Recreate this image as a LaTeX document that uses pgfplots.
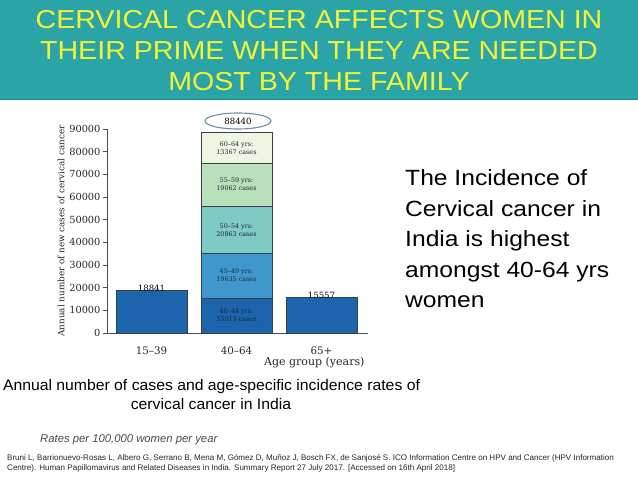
\documentclass[border=0pt]{standalone}
\usepackage{fontspec}
\usepackage{pgfplots}
\pgfplotsset{compat=1.18}
\setmainfont{Liberation Sans}
\newfontfamily\chartfont{DejaVu Serif}
\newfontfamily\titlefont[FakeStretch=1.1]{Liberation Sans}
\newfontfamily\rightfont[FakeStretch=1.12]{Liberation Sans}
\newfontfamily\capfont[FakeStretch=1.03]{Liberation Sans}
\definecolor{band}{HTML}{2BA4A7}
\definecolor{bandedge}{HTML}{1F8C8F}
\definecolor{titleyellow}{HTML}{F2F535}
\definecolor{cA}{HTML}{1C65AC}
\definecolor{cB}{HTML}{3E98CE}
\definecolor{cC}{HTML}{7DCBC3}
\definecolor{cD}{HTML}{BADFBB}
\definecolor{cE}{HTML}{EFF5E3}
\definecolor{edge}{HTML}{3A3F45}
\definecolor{segtext}{HTML}{1B2838}
\definecolor{ellcol}{HTML}{6F8EA6}
\begin{document}
\begin{tikzpicture}[x=1pt,y=1pt]
\useasboundingbox (0,0) rectangle (638,478);
\fill[white] (0,0) rectangle (638,478);
% header band
\fill[band] (0,378) rectangle (638,478);
\draw[bandedge, line width=1.2pt] (0,378.6) -- (638,378.6);
\node[anchor=base, inner sep=0, text=titleyellow, font=\titlefont\fontsize{26}{30}\selectfont] at (319,449) {CERVICAL CANCER AFFECTS WOMEN IN};
\node[anchor=base, inner sep=0, text=titleyellow, font=\titlefont\fontsize{26}{30}\selectfont] at (319,418) {THEIR PRIME WHEN THEY ARE NEEDED};
\node[anchor=base, inner sep=0, text=titleyellow, font=\titlefont\fontsize{26}{30}\selectfont] at (319,387) {MOST BY THE FAMILY};
% right text
\foreach \t/\yy in {The Incidence of/292, Cervical cancer in/261.5, India is highest/231, amongst 40-64 yrs/200.5, women/170}{
  \node[anchor=base west, inner sep=0, font=\rightfont\fontsize{22}{26}\selectfont] at (405,\yy) {\t};
}
% bottom texts
\node[anchor=base, inner sep=0, font=\capfont\fontsize{15.3}{18}\selectfont] at (211.5,87.3) {Annual number of cases and age-specific incidence rates of};
\node[anchor=base, inner sep=0, font=\capfont\fontsize{15.3}{18}\selectfont] at (211,68) {cervical cancer in India};
\node[anchor=base west, inner sep=0, text=black!70, font=\itshape\fontsize{11.3}{13}\selectfont] at (40,35.3) {Rates per 100,000 women per year};
\node[anchor=base west, inner sep=0, text=black!85, font=\fontsize{8.05}{10}\selectfont] at (7,17.3) {Bruni L, Barrionuevo-Rosas L, Albero G, Serrano B, Mena M, G\'omez D, Mu\~noz J, Bosch FX, de Sanjos\'e S. ICO Information Centre on HPV and Cancer (HPV Information};
\node[anchor=base west, inner sep=0, text=black!85, font=\fontsize{8.05}{10}\selectfont] at (7,7) {Centre). Human Papillomavirus and Related Diseases in India. Summary Report 27 July 2017. [Accessed on 16th April 2018]};
% main axis with side bars
\begin{axis}[
  at={(107pt,145pt)}, anchor=south west,
  scale only axis, width=261pt, height=204pt,
  xmin=-0.5235, xmax=2.547, ymin=0, ymax=90000,
  axis x line*=bottom, axis y line*=left,
  axis line style={draw=black!70, line width=0.6pt},
  ytick={0,10000,20000,30000,40000,50000,60000,70000,80000,90000},
  xtick={0,1,2}, xticklabels={15–39,40–64,65+},
  x tick style={draw=none},
  y tick style={draw=black!70, line width=0.6pt},
  tick align=outside, major tick length=4pt,
  scaled y ticks=false,
  /pgf/number format/1000 sep={},
  /pgf/number format/assume math mode=true,
  yticklabel style={font=\chartfont\fontsize{9.8}{11}\selectfont, text=black!85, xshift=1pt},
  xticklabel style={font=\chartfont\fontsize{10.3}{12}\selectfont, text=black!85, yshift=-6pt},
  ylabel={Annual number of new cases of cervical cancer},
  ylabel style={font=\chartfont\fontsize{8.8}{10}\selectfont, text=black!85, yshift=-2pt},
  xlabel={Age group (years)},
  xlabel style={font=\chartfont\fontsize{11}{13}\selectfont, text=black!85, at={(axis description cs:1,0)}, anchor=base east, yshift=-33pt},
  ybar, bar width=0.835,
  clip=false,
]
\addplot[fill=cA, draw=edge, line width=0.5pt,
  nodes near coords,
  every node near coord/.append style={font=\chartfont\fontsize{8.6}{10}\selectfont, text=black, anchor=base, inner sep=0pt, yshift=-1pt}]
  coordinates {(0,18841) (2,15557)};
\end{axis}
% stacked bar
\begin{axis}[
  at={(107pt,145pt)}, anchor=south west,
  scale only axis, width=261pt, height=204pt,
  xmin=-0.5235, xmax=2.547, ymin=0, ymax=90000,
  hide axis,
  ybar stacked, bar width=0.835,
  clip=false,
]
\addplot[fill=cA, draw=edge, line width=0.5pt] coordinates {(1,15513)};
\addplot[fill=cB, draw=edge, line width=0.5pt] coordinates {(1,19635)};
\addplot[fill=cC, draw=edge, line width=0.5pt] coordinates {(1,20863)};
\addplot[fill=cD, draw=edge, line width=0.5pt] coordinates {(1,19062)};
\addplot[fill=cE, draw=edge, line width=0.5pt] coordinates {(1,13367)};
\coordinate (s1) at (axis cs:1,7756);
\coordinate (s2) at (axis cs:1,25330);
\coordinate (s3) at (axis cs:1,45580);
\coordinate (s4) at (axis cs:1,65542);
\coordinate (s5) at (axis cs:1,81756);
\end{axis}
\node[font=\chartfont\fontsize{6.4}{8}\selectfont, text=segtext, align=center] at (s1) {40–44 yrs:\\15513 cases};
\node[font=\chartfont\fontsize{6.4}{8}\selectfont, text=segtext, align=center] at (s2) {45–49 yrs:\\19635 cases};
\node[font=\chartfont\fontsize{6.4}{8}\selectfont, text=segtext, align=center] at (s3) {50–54 yrs:\\20863 cases};
\node[font=\chartfont\fontsize{6.4}{8}\selectfont, text=segtext, align=center] at (s4) {55–59 yrs:\\19062 cases};
\node[font=\chartfont\fontsize{6.4}{8}\selectfont, text=segtext, align=center] at (s5) {60–64 yrs:\\13367 cases};
% total annotation
\draw[ellcol, line width=1.1pt, fill=white] (238,357) ellipse (33 and 8);
\node[font=\chartfont\fontsize{8.6}{10}\selectfont, text=black] at (238,357) {88440};
\end{tikzpicture}
\end{document}
